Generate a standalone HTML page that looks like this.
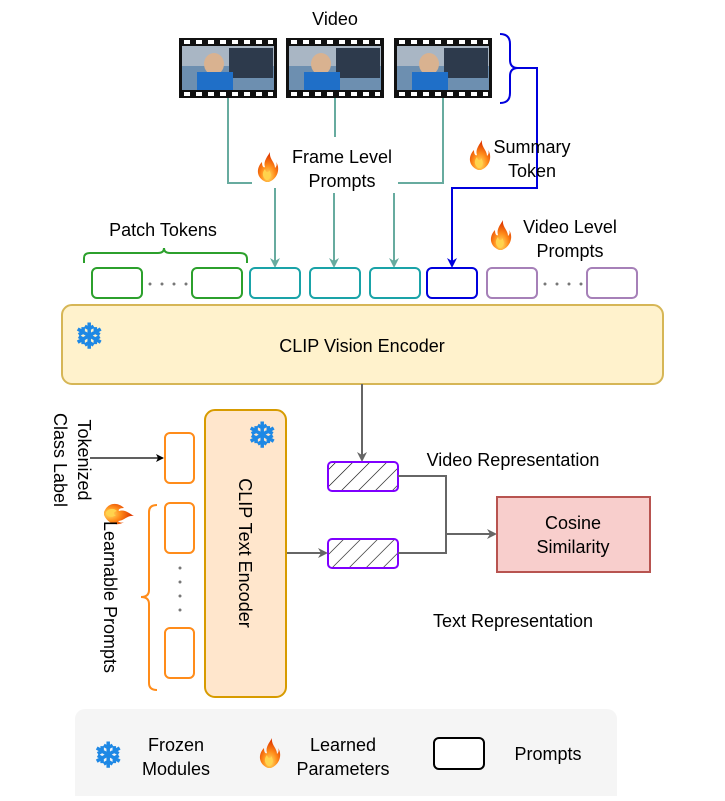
<!DOCTYPE html>
<html><head><meta charset="utf-8"><style>
html,body{margin:0;padding:0;background:#fff;}
svg text{font-family:"Liberation Sans",Arial,sans-serif;fill:#000;}
.sf{fill:#1e88e5;stroke:#1e88e5;stroke-width:1.5;font-family:'DejaVu Sans',sans-serif;}
</style></head><body>
<svg width="725" height="796" viewBox="0 0 725 796" xmlns="http://www.w3.org/2000/svg">
<defs>
<pattern id="hatch" width="12" height="12" patternUnits="userSpaceOnUse" patternTransform="rotate(45)">
<line x1="0" y1="0" x2="0" y2="12" stroke="#000" stroke-width="1.2"/>
</pattern>
<marker id="ag" markerWidth="10" markerHeight="10" refX="8" refY="5" orient="auto" markerUnits="userSpaceOnUse"><path d="M0,0 L10,5 L0,10 L3,5z" fill="#67ab9f"/></marker>
<marker id="ab" markerWidth="10" markerHeight="10" refX="8" refY="5" orient="auto" markerUnits="userSpaceOnUse"><path d="M0,0 L10,5 L0,10 L3,5z" fill="#0000dd"/></marker>
<marker id="agr" markerWidth="10" markerHeight="10" refX="8" refY="5" orient="auto" markerUnits="userSpaceOnUse"><path d="M0,0 L10,5 L0,10 L3,5z" fill="#666"/></marker>
<marker id="ak" markerWidth="8" markerHeight="8" refX="7" refY="4" orient="auto" markerUnits="userSpaceOnUse"><path d="M0,0 L8,4 L0,8 L2,4z" fill="#000"/></marker>
<radialGradient id="fl" cx="50%" cy="80%" r="70%"><stop offset="0" stop-color="#ffe066"/><stop offset="0.5" stop-color="#ff8c1a"/><stop offset="1" stop-color="#e03a00"/></radialGradient>
<g id="flame"><path d="M0,12 C-10,8 -10,-2 -4,-8 C-4,-3 -2,-2 -1,-3 C-3,-9 2,-14 4,-18 C3,-11 9,-8 9,-2 C11,-4 11,-6 10,-8 C14,-3 13,8 3,12 Z" fill="url(#fl)"/><path d="M0,10 C-4,7 -4,2 -1,-1 C0,3 3,3 3,0 C6,4 5,8 2,10Z" fill="#ffd34d"/></g>
<g id="film">
<rect x="0" y="0" width="98" height="60" fill="#111"/>
<rect x="3" y="8" width="92" height="44" fill="#6d8fb0"/>
<rect x="3" y="8" width="92" height="20" fill="#a9b6c4"/>
<rect x="50" y="10" width="44" height="30" fill="#2d3a4c"/>
<ellipse cx="35" cy="26" rx="10" ry="11" fill="#d9b290"/>
<rect x="18" y="34" width="36" height="18" fill="#1f6fc8"/>
<g fill="#fff"><rect x="5" y="2" width="6" height="4"/><rect x="17" y="2" width="6" height="4"/><rect x="29" y="2" width="6" height="4"/><rect x="41" y="2" width="6" height="4"/><rect x="53" y="2" width="6" height="4"/><rect x="65" y="2" width="6" height="4"/><rect x="77" y="2" width="6" height="4"/><rect x="89" y="2" width="5" height="4"/>
<rect x="5" y="54" width="6" height="4"/><rect x="17" y="54" width="6" height="4"/><rect x="29" y="54" width="6" height="4"/><rect x="41" y="54" width="6" height="4"/><rect x="53" y="54" width="6" height="4"/><rect x="65" y="54" width="6" height="4"/><rect x="77" y="54" width="6" height="4"/><rect x="89" y="54" width="5" height="4"/></g>
</g>
</defs>

<text x="335" y="25" font-size="18" text-anchor="middle">Video</text>
<use href="#film" x="179" y="38"/>
<use href="#film" x="286" y="38"/>
<use href="#film" x="394" y="38"/>

<path d="M500,34 Q510,34 510,44 L510,60 Q510,68 518,68 Q510,68 510,76 L510,93 Q510,103 500,103" fill="none" stroke="#0000dd" stroke-width="2"/>
<path d="M518,68 L537,68 L537,188 L452,188 L452,266" fill="none" stroke="#0000dd" stroke-width="2" marker-end="url(#ab)"/>
<use href="#flame" x="478" y="158"/>
<text x="532" y="153" font-size="18" text-anchor="middle">Summary</text>
<text x="532" y="177" font-size="18" text-anchor="middle">Token</text>

<g fill="none" stroke="#67ab9f" stroke-width="2">
<path d="M228,98 L228,183 L252,183"/>
<path d="M335,98 L335,137"/>
<path d="M443,98 L443,183 L398,183"/>
<path d="M275,188 L275,266" marker-end="url(#ag)"/>
<path d="M334,193 L334,266" marker-end="url(#ag)"/>
<path d="M394,193 L394,266" marker-end="url(#ag)"/>
</g>
<use href="#flame" x="266" y="170"/>
<text x="342" y="163" font-size="18" text-anchor="middle">Frame Level</text>
<text x="342" y="187" font-size="18" text-anchor="middle">Prompts</text>

<text x="163" y="236" font-size="18" text-anchor="middle">Patch Tokens</text>
<path d="M84,263 L84,258 Q84,253 90,253 L158,253 Q164,253 164,248 Q164,253 170,253 L240,253 Q247,253 247,259 L247,263" fill="none" stroke="#2ca02c" stroke-width="2"/>
<use href="#flame" x="499" y="238"/>
<text x="570" y="233" font-size="18" text-anchor="middle">Video Level</text>
<text x="570" y="257" font-size="18" text-anchor="middle">Prompts</text>

<g fill="#fff" stroke-width="2">
<rect x="92" y="268" width="50" height="30" rx="5" stroke="#2ca02c"/>
<rect x="192" y="268" width="50" height="30" rx="5" stroke="#2ca02c"/>
<rect x="250" y="268" width="50" height="30" rx="5" stroke="#1aa3a8"/>
<rect x="310" y="268" width="50" height="30" rx="5" stroke="#1aa3a8"/>
<rect x="370" y="268" width="50" height="30" rx="5" stroke="#1aa3a8"/>
<rect x="427" y="268" width="50" height="30" rx="5" stroke="#0000dd"/>
<rect x="487" y="268" width="50" height="30" rx="5" stroke="#a680b8"/>
<rect x="587" y="268" width="50" height="30" rx="5" stroke="#a680b8"/>
</g>
<g fill="#777"><circle cx="150" cy="284" r="1.5"/><circle cx="162" cy="284" r="1.5"/><circle cx="174" cy="284" r="1.5"/><circle cx="186" cy="284" r="1.5"/>
<circle cx="545" cy="284" r="1.5"/><circle cx="557" cy="284" r="1.5"/><circle cx="569" cy="284" r="1.5"/><circle cx="581" cy="284" r="1.5"/></g>

<rect x="62" y="305" width="601" height="79" rx="10" fill="#fff2cc" stroke="#d6b656" stroke-width="2"/>
<text x="89" y="348" font-size="34" text-anchor="middle" class="sf">❄</text>
<text x="362" y="352" font-size="18" text-anchor="middle">CLIP Vision Encoder</text>

<path d="M362,384 L362,460" stroke="#666" stroke-width="2" fill="none" marker-end="url(#agr)"/>

<rect x="328" y="462" width="70" height="29" rx="4" fill="url(#hatch)" stroke="#7f00ff" stroke-width="2"/>
<rect x="328" y="539" width="70" height="29" rx="4" fill="url(#hatch)" stroke="#7f00ff" stroke-width="2"/>
<text x="513" y="466" font-size="18" text-anchor="middle">Video Representation</text>
<text x="513" y="627" font-size="18" text-anchor="middle">Text Representation</text>
<g fill="none" stroke="#666" stroke-width="2">
<path d="M398,476 L446,476 L446,553 L398,553"/>
<path d="M446,534 L495,534" marker-end="url(#agr)"/>
<path d="M286,553 L326,553" marker-end="url(#agr)"/>
</g>
<rect x="497" y="497" width="153" height="75" fill="#f8cecc" stroke="#b85450" stroke-width="2"/>
<text x="573" y="529" font-size="18" text-anchor="middle">Cosine</text>
<text x="573" y="553" font-size="18" text-anchor="middle">Similarity</text>

<rect x="205" y="410" width="81" height="287" rx="10" fill="#ffe6cc" stroke="#d79b00" stroke-width="2"/>
<text x="262" y="447" font-size="34" text-anchor="middle" class="sf">❄</text>
<text transform="translate(239,553) rotate(90)" font-size="18" text-anchor="middle">CLIP Text Encoder</text>

<g fill="#fff" stroke="#ff8c1a" stroke-width="2">
<rect x="165" y="433" width="29" height="50" rx="5"/>
<rect x="165" y="503" width="29" height="50" rx="5"/>
<rect x="165" y="628" width="29" height="50" rx="5"/>
</g>
<g fill="#777"><circle cx="180" cy="568" r="1.5"/><circle cx="180" cy="582" r="1.5"/><circle cx="180" cy="596" r="1.5"/><circle cx="180" cy="610" r="1.5"/></g>
<path d="M157,505 Q149,505 149,512 L149,590 Q149,597 141,597 Q149,597 149,604 L149,683 Q149,690 157,690" fill="none" stroke="#ff8c1a" stroke-width="2"/>
<path d="M90,458 L163,458" stroke="#000" stroke-width="1.2" marker-end="url(#ak)"/>
<text transform="translate(78,460) rotate(90)" font-size="18" text-anchor="middle">Tokenized</text>
<text transform="translate(54,460) rotate(90)" font-size="18" text-anchor="middle">Class Label</text>
<g transform="translate(116,512) rotate(90)"><use href="#flame"/></g>
<text transform="translate(104,597) rotate(90)" font-size="18" text-anchor="middle">Learnable Prompts</text>

<rect x="75" y="709" width="542" height="100" rx="10" fill="#f5f5f5"/>
<text x="108" y="767" font-size="34" text-anchor="middle" class="sf">❄</text>
<text x="176" y="751" font-size="18" text-anchor="middle">Frozen</text>
<text x="176" y="775" font-size="18" text-anchor="middle">Modules</text>
<use href="#flame" x="268" y="756"/>
<text x="343" y="751" font-size="18" text-anchor="middle">Learned</text>
<text x="343" y="775" font-size="18" text-anchor="middle">Parameters</text>
<rect x="434" y="738" width="50" height="31" rx="5" fill="#fff" stroke="#000" stroke-width="2"/>
<text x="548" y="760" font-size="18" text-anchor="middle">Prompts</text>
</svg>
</body></html>
